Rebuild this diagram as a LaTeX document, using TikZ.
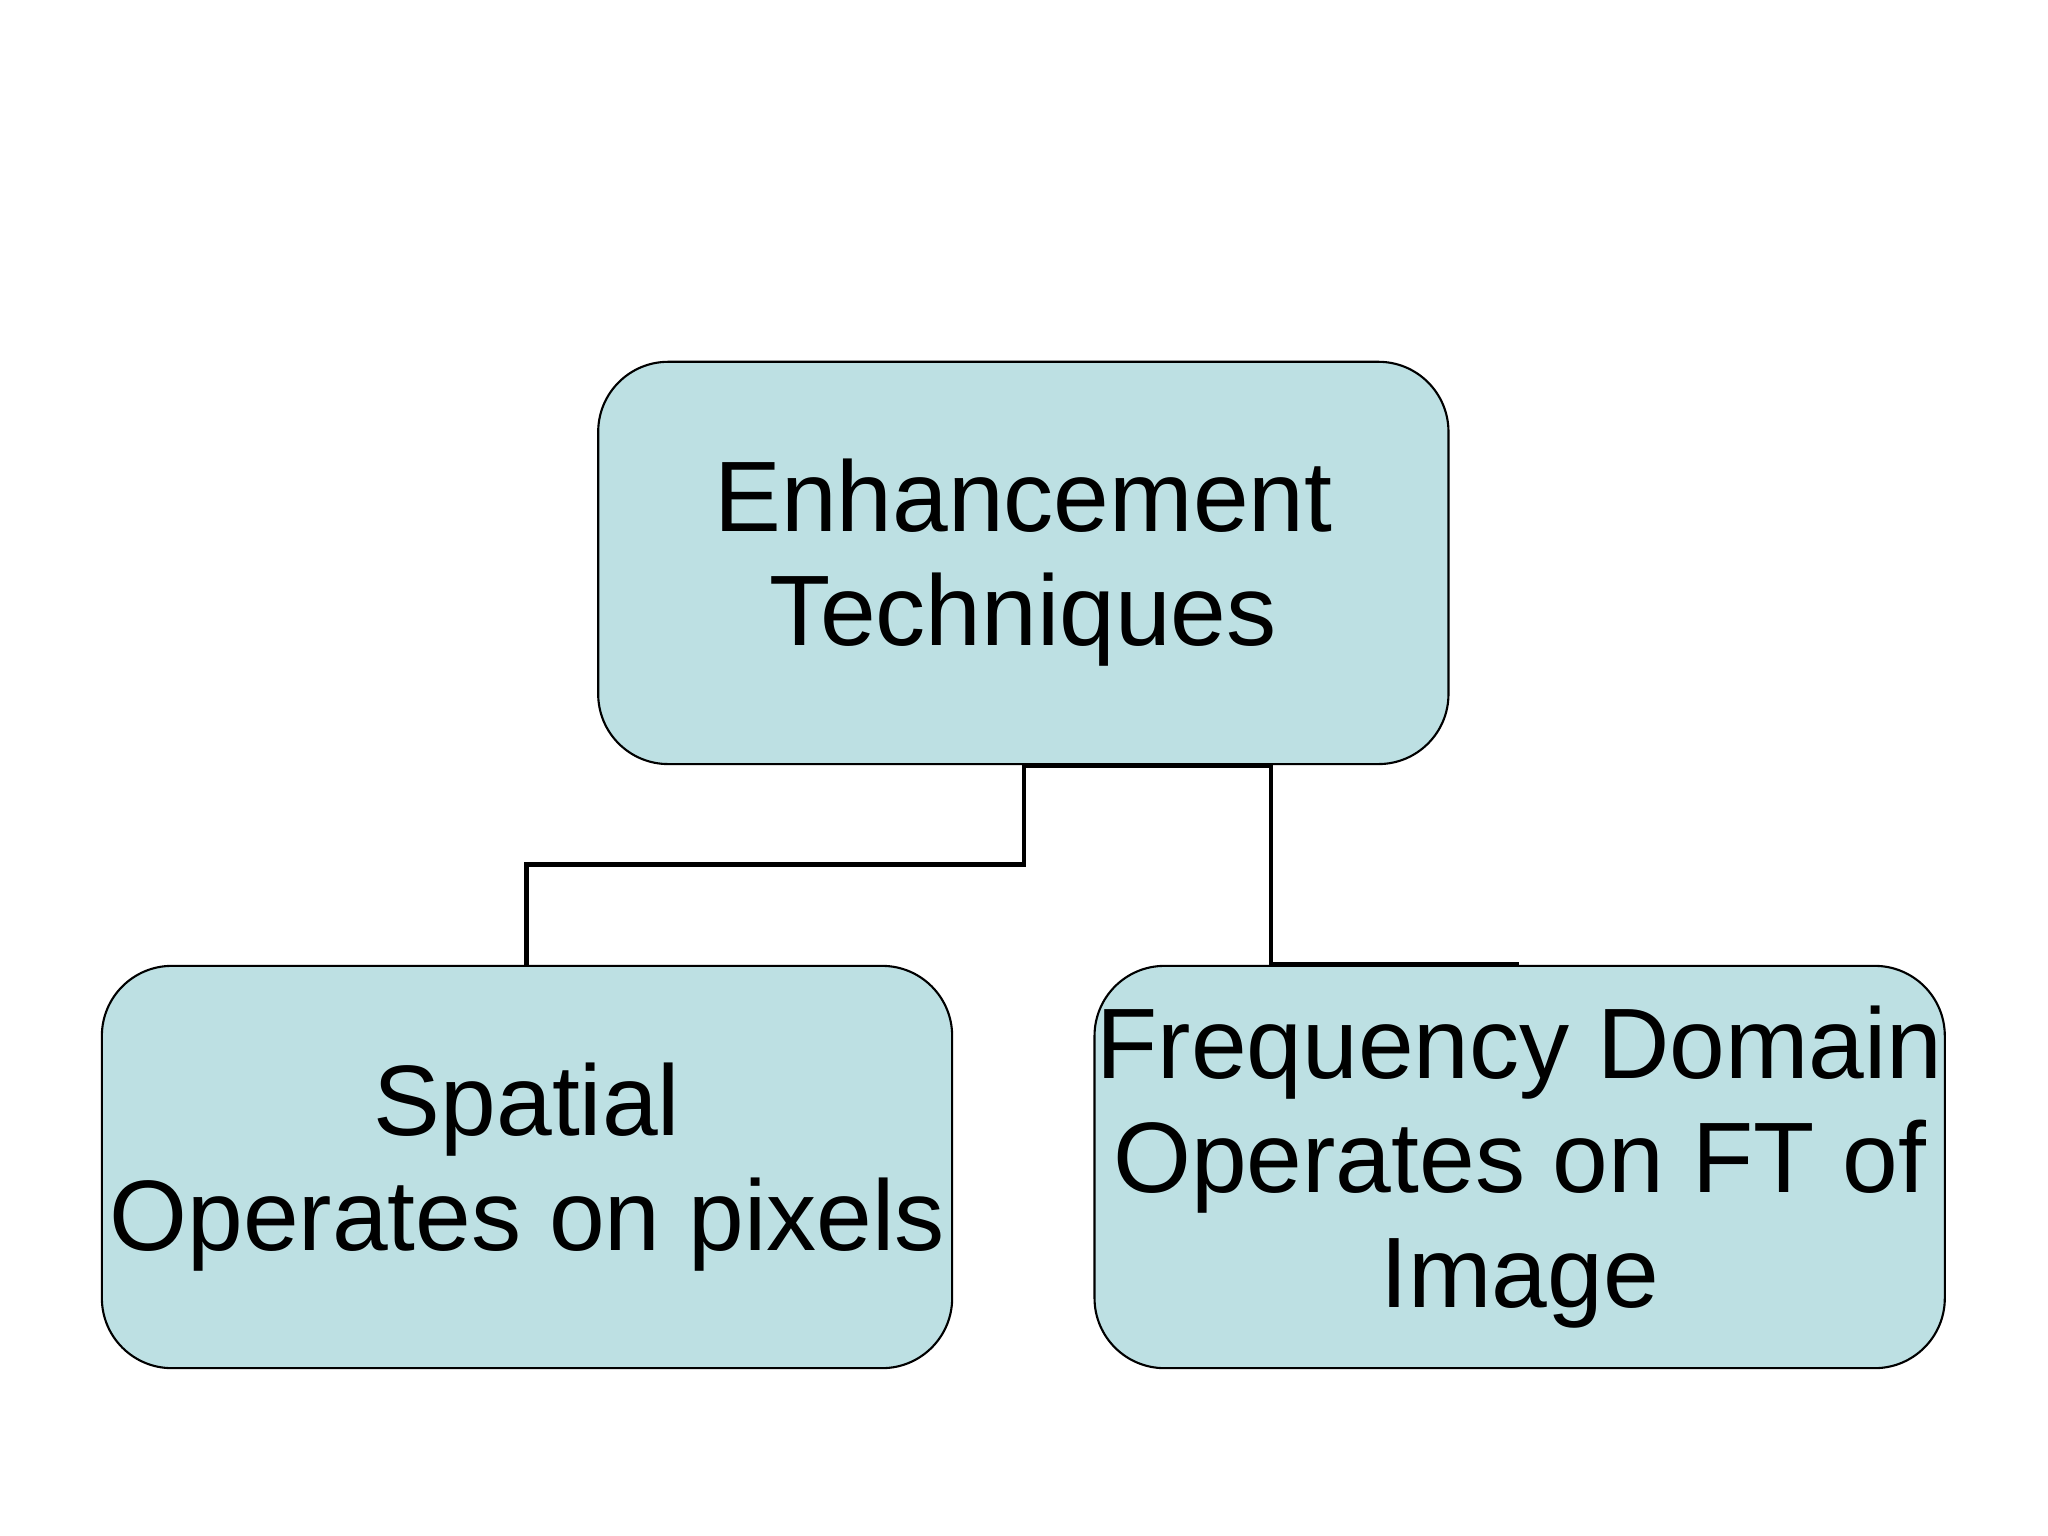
\documentclass[tikz,border=0pt]{standalone}
\usepackage{fontspec}
\setmainfont{Liberation Sans}
\definecolor{boxfill}{HTML}{BDE0E3}
\begin{document}
\begin{tikzpicture}[x=0.01306cm,y=-0.01306cm,
  box/.style={draw=black,line width=0.6pt,fill=boxfill,rounded corners=0.7cm,minimum width=651*0.01306cm,minimum height=308*0.01306cm,align=center,inner sep=0pt,font=\fontsize{28.5}{32.5}\selectfont},
  conn/.style={line width=1.3pt}]
\useasboundingbox (0,0) rectangle (1568,1176);
\node[box] (top) at (783.5,431) {Enhancement\\Techniques};
\node[box] (left) at (403.5,893.5) {Spatial\\Operates on pixels};
\node[box] (right) at (1163.5,893.5) {Frequency Domain\\Operates on FT of\\Image};
\coordinate (a) at (784,586);
\coordinate (b) at (973,586);
\draw[conn] (a) -- (b);
\draw[conn] (a) -- (784,662) -- (403,662) -- (403,740);
\draw[conn] (b) -- (973,738.5) -- (1163,738.5);
\end{tikzpicture}
\end{document}
